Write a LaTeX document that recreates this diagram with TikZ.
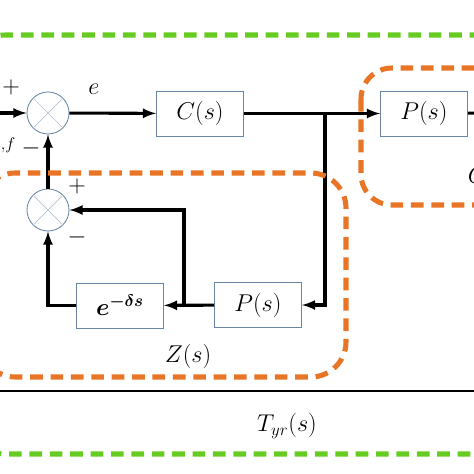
\documentclass[tikz,border=0pt]{standalone}
\usepackage{amsmath}
\usetikzlibrary{%
  arrows,
  calc
}
\definecolor{zgreen}{RGB}{102,204,34}
\definecolor{zorange}{RGB}{232,116,38}
\definecolor{boxline}{RGB}{105,135,165}
\definecolor{crossgray}{RGB}{185,195,210}

\begin{document}
\begin{tikzpicture}[x=0.025cm,y=-0.025cm,
  font=\fontsize{17.5}{20}\selectfont,
  block/.style={draw=boxline,line width=0.6pt,fill=white,
                minimum width=2.175cm,minimum height=1.125cm,inner sep=0pt},
  sumnode/.style={draw=boxline,circle,line width=0.6pt,fill=white,
                minimum size=1.05cm,inner sep=0pt},
  crossline/.style={draw=crossgray,line width=0.5pt},
  sig/.style={line width=2.2pt,-latex},
  wire/.style={line width=2.2pt},
  region/.style={line width=3.6pt,dash pattern=on 9pt off 5.5pt}]

  \useasboundingbox (0,0) rectangle (474,474);
  \clip (0,0) rectangle (474,474);

  % outer loop T_yr
  \draw[region,zgreen,rounded corners=25] (-30,35) rectangle (510,454);
  \draw[line width=1.4pt] (-10,391) -- (490,391);
  \node (tyr) at (287,426) {$T_{yr}(s)$};

  \node[sumnode] (sum1) at (48,113) {};
  \node[sumnode] (sum2) at (48,210) {};
  \foreach \s in {sum1,sum2} {
    \draw[crossline] (\s.45) -- (\s.225);
    \draw[crossline] (\s.135) -- (\s.315);
  }
  \node[block] (ctrl) at (200,113.5) {$C(s)$};
  \node[block] (plant) at (424,113.5) {$P(s)$};
  \node[block] (model) at (258,305) {$P(s)$};
  \node[block] (delay) at (120,305.5) {$\boldsymbol{e^{-\delta s}}$};

  \coordinate (rin) at (-10,113);
  \coordinate (yout) at (490,113);
  \coordinate (tap) at (325,113);
  \coordinate (fork) at (184,305);

  \draw[sig] (rin) -- (sum1);
  \draw[sig] (sum1) -- (ctrl);
  \draw[sig] (ctrl) -- (plant);
  \draw[wire] (plant) -- (yout);
  \draw[sig] (tap) |- (model);
  \draw[sig] (model) -- (delay);
  \draw[sig] (fork) |- (sum2);
  \draw[sig] (delay) -| (sum2);
  \draw[sig] (sum2) -- (sum1);

  \node (elab) at (94,89) {$e$};
  \node (rlab) [anchor=east] at (21,144) {$r_{m,f}$};
  \node (p1) at (11,87) {$+$};
  \node (m1) at (31,148) {$-$};
  \node (p2) at (77,186) {$+$};
  \node (m2) at (77,237) {$-$};

  % inner regions
  \draw[region,zorange,rounded corners=25] (-20,173) rectangle (346,377);
  \node (zlab) at (188,356) {$Z(s)$};
  \draw[region,zorange,rounded corners=22] (361,68) rectangle (520,205);
  \node (clab) [anchor=west] at (463,177) {$C_{o}(s)$};
\end{tikzpicture}
\end{document}
